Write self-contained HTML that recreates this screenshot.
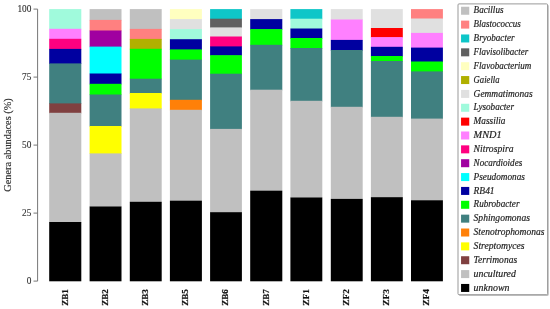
<!DOCTYPE html>
<html><head><meta charset="utf-8"><title>Genera abundances</title>
<style>
html,body{margin:0;padding:0;background:#fff}
svg{display:block}
text{font-family:"Liberation Serif",serif}
.yt{font-size:9.3px;fill:#333;stroke:#333;stroke-width:0.12px;text-anchor:end}
.xl{font-size:9px;font-weight:bold;fill:#111;stroke:#111;stroke-width:0.2px;text-anchor:middle}
.lg{font-size:9.5px;font-style:italic;fill:#222;stroke:#222;stroke-width:0.18px}
.ttl{font-size:9.3px;fill:#333;stroke:#333;stroke-width:0.15px;text-anchor:middle}
</style></head><body>
<svg width="550" height="309" viewBox="0 0 550 309">
<rect width="550" height="309" fill="#fff"/>
<rect x="49.2" y="9.1" width="32.1" height="20.3" fill="#a0fadc"/>
<rect x="49.2" y="28.8" width="32.1" height="10.6" fill="#ff80ff"/>
<rect x="49.2" y="38.8" width="32.1" height="10.7" fill="#ff0080"/>
<rect x="49.2" y="48.9" width="32.1" height="15.1" fill="#0000a0"/>
<rect x="49.2" y="63.4" width="32.1" height="40.6" fill="#408080"/>
<rect x="49.2" y="103.4" width="32.1" height="10.0" fill="#804040"/>
<rect x="49.2" y="112.8" width="32.1" height="109.8" fill="#c0c0c0"/>
<rect x="49.2" y="222.0" width="32.1" height="59.3" fill="#000000"/>
<rect x="89.6" y="9.1" width="31.9" height="11.4" fill="#c0c0c0"/>
<rect x="89.6" y="19.9" width="31.9" height="11.2" fill="#ff8080"/>
<rect x="89.6" y="30.5" width="31.9" height="16.7" fill="#a000a0"/>
<rect x="89.6" y="46.6" width="31.9" height="27.5" fill="#00ffff"/>
<rect x="89.6" y="73.5" width="31.9" height="10.9" fill="#0000a0"/>
<rect x="89.6" y="83.8" width="31.9" height="11.3" fill="#00ff00"/>
<rect x="89.6" y="94.5" width="31.9" height="32.1" fill="#408080"/>
<rect x="89.6" y="126.0" width="31.9" height="28.0" fill="#ffff00"/>
<rect x="89.6" y="153.4" width="31.9" height="53.7" fill="#c0c0c0"/>
<rect x="89.6" y="206.5" width="31.9" height="74.8" fill="#000000"/>
<rect x="129.8" y="9.1" width="31.9" height="20.4" fill="#c0c0c0"/>
<rect x="129.8" y="28.9" width="31.9" height="10.6" fill="#ff8080"/>
<rect x="129.8" y="38.9" width="31.9" height="10.5" fill="#b0b000"/>
<rect x="129.8" y="48.8" width="31.9" height="30.5" fill="#00ff00"/>
<rect x="129.8" y="78.7" width="31.9" height="14.9" fill="#408080"/>
<rect x="129.8" y="93.0" width="31.9" height="16.0" fill="#ffff00"/>
<rect x="129.8" y="108.4" width="31.9" height="94.0" fill="#c0c0c0"/>
<rect x="129.8" y="201.8" width="31.9" height="79.5" fill="#000000"/>
<rect x="169.9" y="9.1" width="32.0" height="10.6" fill="#ffffc0"/>
<rect x="169.9" y="19.1" width="32.0" height="10.6" fill="#e0e0e0"/>
<rect x="169.9" y="29.1" width="32.0" height="10.7" fill="#a0fadc"/>
<rect x="169.9" y="39.2" width="32.0" height="10.8" fill="#0000a0"/>
<rect x="169.9" y="49.4" width="32.0" height="10.8" fill="#00ff00"/>
<rect x="169.9" y="59.6" width="32.0" height="40.8" fill="#408080"/>
<rect x="169.9" y="99.8" width="32.0" height="10.6" fill="#ff8008"/>
<rect x="169.9" y="109.8" width="32.0" height="91.5" fill="#c0c0c0"/>
<rect x="169.9" y="200.7" width="32.0" height="80.6" fill="#000000"/>
<rect x="210.1" y="9.1" width="31.8" height="10.2" fill="#0ec6c8"/>
<rect x="210.1" y="18.7" width="31.8" height="9.3" fill="#606060"/>
<rect x="210.1" y="27.4" width="31.8" height="9.7" fill="#e0e0e0"/>
<rect x="210.1" y="36.5" width="31.8" height="10.5" fill="#ff0080"/>
<rect x="210.1" y="46.4" width="31.8" height="9.4" fill="#0000a0"/>
<rect x="210.1" y="55.2" width="31.8" height="19.1" fill="#00ff00"/>
<rect x="210.1" y="73.7" width="31.8" height="55.8" fill="#408080"/>
<rect x="210.1" y="128.9" width="31.8" height="83.9" fill="#c0c0c0"/>
<rect x="210.1" y="212.2" width="31.8" height="69.1" fill="#000000"/>
<rect x="250.2" y="9.1" width="32.1" height="10.6" fill="#e0e0e0"/>
<rect x="250.2" y="19.1" width="32.1" height="10.6" fill="#0000a0"/>
<rect x="250.2" y="29.1" width="32.1" height="16.3" fill="#00ff00"/>
<rect x="250.2" y="44.8" width="32.1" height="45.5" fill="#408080"/>
<rect x="250.2" y="89.7" width="32.1" height="101.6" fill="#c0c0c0"/>
<rect x="250.2" y="190.7" width="32.1" height="90.6" fill="#000000"/>
<rect x="290.4" y="9.1" width="31.9" height="10.2" fill="#0ec6c8"/>
<rect x="290.4" y="18.7" width="31.9" height="10.4" fill="#a0fadc"/>
<rect x="290.4" y="28.5" width="31.9" height="10.1" fill="#0000a0"/>
<rect x="290.4" y="38.0" width="31.9" height="10.6" fill="#00ff00"/>
<rect x="290.4" y="48.0" width="31.9" height="53.4" fill="#408080"/>
<rect x="290.4" y="100.8" width="31.9" height="97.3" fill="#c0c0c0"/>
<rect x="290.4" y="197.5" width="31.9" height="83.8" fill="#000000"/>
<rect x="330.8" y="9.1" width="31.9" height="11.0" fill="#e0e0e0"/>
<rect x="330.8" y="19.5" width="31.9" height="21.0" fill="#ff80ff"/>
<rect x="330.8" y="39.9" width="31.9" height="10.7" fill="#0000a0"/>
<rect x="330.8" y="50.0" width="31.9" height="57.4" fill="#408080"/>
<rect x="330.8" y="106.8" width="31.9" height="92.7" fill="#c0c0c0"/>
<rect x="330.8" y="198.9" width="31.9" height="82.4" fill="#000000"/>
<rect x="370.9" y="9.1" width="31.9" height="19.5" fill="#e0e0e0"/>
<rect x="370.9" y="28.0" width="31.9" height="9.7" fill="#ff0000"/>
<rect x="370.9" y="37.1" width="31.9" height="10.3" fill="#ff80ff"/>
<rect x="370.9" y="46.8" width="31.9" height="9.8" fill="#0000a0"/>
<rect x="370.9" y="56.0" width="31.9" height="5.6" fill="#00ff00"/>
<rect x="370.9" y="61.0" width="31.9" height="56.4" fill="#408080"/>
<rect x="370.9" y="116.8" width="31.9" height="81.0" fill="#c0c0c0"/>
<rect x="370.9" y="197.2" width="31.9" height="84.1" fill="#000000"/>
<rect x="411.0" y="9.1" width="31.9" height="10.0" fill="#ff8080"/>
<rect x="411.0" y="18.5" width="31.9" height="15.0" fill="#e0e0e0"/>
<rect x="411.0" y="32.9" width="31.9" height="15.3" fill="#ff80ff"/>
<rect x="411.0" y="47.6" width="31.9" height="14.5" fill="#0000a0"/>
<rect x="411.0" y="61.5" width="31.9" height="10.5" fill="#00ff00"/>
<rect x="411.0" y="71.4" width="31.9" height="47.8" fill="#408080"/>
<rect x="411.0" y="118.6" width="31.9" height="82.3" fill="#c0c0c0"/>
<rect x="411.0" y="200.3" width="31.9" height="81.0" fill="#000000"/>
<path d="M33.5 9.1H37.6V281.1H33.5M33.5 77.1H37.6M33.5 145.1H37.6M33.5 213.1H37.6" fill="none" stroke="#777" stroke-width="1"/>
<text class="yt" x="31.4" y="12.3">100</text>
<text class="yt" x="31.4" y="80.3">75</text>
<text class="yt" x="31.4" y="148.3">50</text>
<text class="yt" x="31.4" y="216.3">25</text>
<text class="yt" x="31.4" y="284.3">0</text>
<text class="ttl" transform="translate(10.6 145) rotate(-90)" textLength="93.5" lengthAdjust="spacingAndGlyphs">Genera abundaces (%)</text>
<text class="xl" transform="translate(67.7 297.4) rotate(-90)" textLength="16.6" lengthAdjust="spacingAndGlyphs">ZB1</text>
<text class="xl" transform="translate(108.0 297.4) rotate(-90)" textLength="16.6" lengthAdjust="spacingAndGlyphs">ZB2</text>
<text class="xl" transform="translate(148.2 297.4) rotate(-90)" textLength="16.6" lengthAdjust="spacingAndGlyphs">ZB3</text>
<text class="xl" transform="translate(188.3 297.4) rotate(-90)" textLength="16.6" lengthAdjust="spacingAndGlyphs">ZB5</text>
<text class="xl" transform="translate(228.4 297.4) rotate(-90)" textLength="16.6" lengthAdjust="spacingAndGlyphs">ZB6</text>
<text class="xl" transform="translate(268.6 297.4) rotate(-90)" textLength="16.6" lengthAdjust="spacingAndGlyphs">ZB7</text>
<text class="xl" transform="translate(308.8 297.4) rotate(-90)" textLength="16.6" lengthAdjust="spacingAndGlyphs">ZF1</text>
<text class="xl" transform="translate(349.1 297.4) rotate(-90)" textLength="16.6" lengthAdjust="spacingAndGlyphs">ZF2</text>
<text class="xl" transform="translate(389.2 297.4) rotate(-90)" textLength="16.6" lengthAdjust="spacingAndGlyphs">ZF3</text>
<text class="xl" transform="translate(429.3 297.4) rotate(-90)" textLength="16.6" lengthAdjust="spacingAndGlyphs">ZF4</text>
<rect x="459" y="4.9" width="89.6" height="290.8" rx="1" fill="#b0b0b0"/>
<rect x="458" y="3.9" width="89.6" height="290.8" rx="1" fill="#fff" stroke="#999" stroke-width="1"/>
<rect x="461.05" y="6.75" width="8.2" height="8" fill="#c0c0c0"/>
<text class="lg" x="473.6" y="13.40" textLength="29.9" lengthAdjust="spacingAndGlyphs">Bacillus</text>
<rect x="461.05" y="20.61" width="8.2" height="8" fill="#ff8080"/>
<text class="lg" x="473.6" y="27.26" textLength="47.2" lengthAdjust="spacingAndGlyphs">Blastococcus</text>
<rect x="461.05" y="34.47" width="8.2" height="8" fill="#0ec6c8"/>
<text class="lg" x="473.6" y="41.12" textLength="40.9" lengthAdjust="spacingAndGlyphs">Bryobacter</text>
<rect x="461.05" y="48.33" width="8.2" height="8" fill="#606060"/>
<text class="lg" x="473.6" y="54.98" textLength="54.6" lengthAdjust="spacingAndGlyphs">Flavisolibacter</text>
<rect x="461.05" y="62.19" width="8.2" height="8" fill="#ffffc0"/>
<text class="lg" x="473.6" y="68.84" textLength="57.7" lengthAdjust="spacingAndGlyphs">Flavobacterium</text>
<rect x="461.05" y="76.05" width="8.2" height="8" fill="#b0b000"/>
<text class="lg" x="473.6" y="82.70" textLength="25.9" lengthAdjust="spacingAndGlyphs">Gaiella</text>
<rect x="461.05" y="89.91" width="8.2" height="8" fill="#e0e0e0"/>
<text class="lg" x="473.6" y="96.56" textLength="59.0" lengthAdjust="spacingAndGlyphs">Gemmatimonas</text>
<rect x="461.05" y="103.77" width="8.2" height="8" fill="#a0fadc"/>
<text class="lg" x="473.6" y="110.42" textLength="40.4" lengthAdjust="spacingAndGlyphs">Lysobacter</text>
<rect x="461.05" y="117.63" width="8.2" height="8" fill="#ff0000"/>
<text class="lg" x="473.6" y="124.28" textLength="31.9" lengthAdjust="spacingAndGlyphs">Massilia</text>
<rect x="461.05" y="131.49" width="8.2" height="8" fill="#ff80ff"/>
<text class="lg" x="473.6" y="138.14" textLength="28.1" lengthAdjust="spacingAndGlyphs">MND1</text>
<rect x="461.05" y="145.35" width="8.2" height="8" fill="#ff0080"/>
<text class="lg" x="473.6" y="152.00" textLength="39.9" lengthAdjust="spacingAndGlyphs">Nitrospira</text>
<rect x="461.05" y="159.21" width="8.2" height="8" fill="#a000a0"/>
<text class="lg" x="473.6" y="165.86" textLength="48.6" lengthAdjust="spacingAndGlyphs">Nocardioides</text>
<rect x="461.05" y="173.07" width="8.2" height="8" fill="#00ffff"/>
<text class="lg" x="473.6" y="179.72" textLength="51.3" lengthAdjust="spacingAndGlyphs">Pseudomonas</text>
<rect x="461.05" y="186.93" width="8.2" height="8" fill="#0000a0"/>
<text class="lg" x="473.6" y="193.58" textLength="21.0" lengthAdjust="spacingAndGlyphs">RB41</text>
<rect x="461.05" y="200.79" width="8.2" height="8" fill="#00ff00"/>
<text class="lg" x="473.6" y="207.44" textLength="45.9" lengthAdjust="spacingAndGlyphs">Rubrobacter</text>
<rect x="461.05" y="214.65" width="8.2" height="8" fill="#408080"/>
<text class="lg" x="473.6" y="221.30" textLength="56.3" lengthAdjust="spacingAndGlyphs">Sphingomonas</text>
<rect x="461.05" y="228.51" width="8.2" height="8" fill="#ff8008"/>
<text class="lg" x="473.6" y="235.16" textLength="70.8" lengthAdjust="spacingAndGlyphs">Stenotrophomonas</text>
<rect x="461.05" y="242.37" width="8.2" height="8" fill="#ffff00"/>
<text class="lg" x="473.6" y="249.02" textLength="51.0" lengthAdjust="spacingAndGlyphs">Streptomyces</text>
<rect x="461.05" y="256.23" width="8.2" height="8" fill="#804040"/>
<text class="lg" x="473.6" y="262.88" textLength="43.5" lengthAdjust="spacingAndGlyphs">Terrimonas</text>
<rect x="461.05" y="270.09" width="8.2" height="8" fill="#c0c0c0"/>
<text class="lg" x="473.6" y="276.74" textLength="42.3" lengthAdjust="spacingAndGlyphs">uncultured</text>
<rect x="461.05" y="283.95" width="8.2" height="8" fill="#000000"/>
<text class="lg" x="473.6" y="290.60" textLength="35.9" lengthAdjust="spacingAndGlyphs">unknown</text>
</svg></body></html>
